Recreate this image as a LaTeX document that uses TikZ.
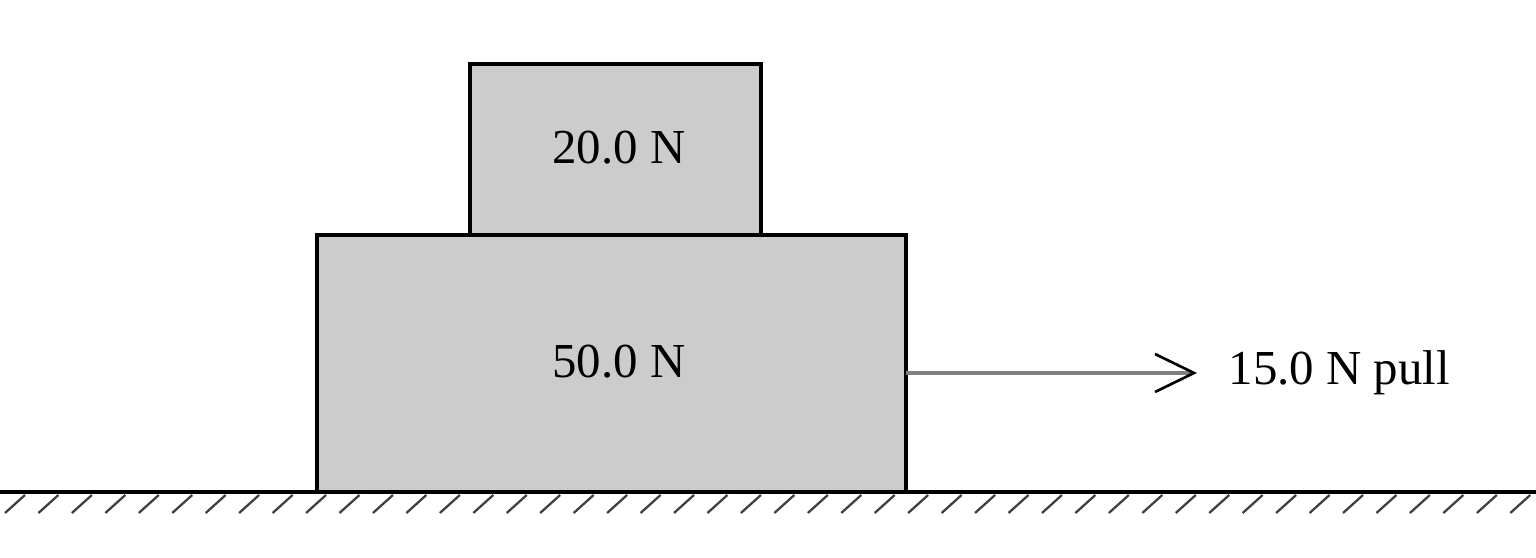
\documentclass[tikz,border=0pt]{standalone}
\usepackage{fontspec}
\setmainfont{Liberation Serif}
\usetikzlibrary{positioning,arrows.meta}
\tikzset{
  block/.style    = {shape=rectangle, draw, line width=1pt,
                     fill=black!20, inner sep=0pt, outer sep=0pt},
  weight/.style   = {inner sep=0pt, font=\fontsize{13.9}{16}\selectfont},
  hatch/.style    = {black!75, line width=0.65pt},
  pull/.style     = {black!50, line width=1.3pt,
                     -{Straight Barb[black, length=3.9mm, width=3.8mm, line width=0.75pt]}}
}

\begin{document}
\begin{tikzpicture}
\useasboundingbox (0,0) rectangle (15.36,5.58);
% ground
\coordinate (gl) at (0,0.66);
\coordinate (gr) at (15.36,0.66);
\draw[line width=1pt] (gl) -- (gr);
\foreach \k in {0,...,45}
  \draw[hatch] (0.05+0.3345*\k,0.45) -- ++(0.20,0.18);
% blocks
\node[block, minimum width=5.89cm, minimum height=2.57cm, anchor=south west] (lower) at (3.17,0.66) {};
\node[block, minimum width=2.91cm, minimum height=1.71cm, anchor=south west] (upper) at ([xshift=1.53cm]lower.north west) {};
\node[weight] (w50) at (6.19,1.965) {50.0 N};
\node[weight] (w20) at (6.19,4.105) {20.0 N};
% applied force
\coordinate (tip) at (11.97,1.85);
\draw[pull] (lower.east |- tip) -- (tip);
\node[weight, right=0.31 of tip] (force) {15.0 N pull};
\end{tikzpicture}
\end{document}
